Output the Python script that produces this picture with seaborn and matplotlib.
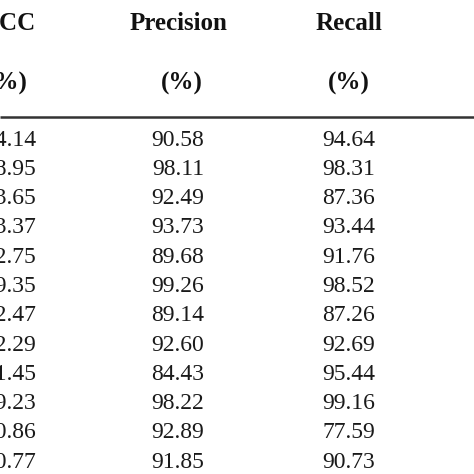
import matplotlib
matplotlib.use("Agg")
import matplotlib.pyplot as plt
import seaborn as sns

headers = ["ACC", "Precision", "Recall"]
units = ["(%)", "(%)", "(%)"]
acc = ["94.14", "98.95", "93.65", "93.37", "92.75", "99.35",
       "92.47", "92.29", "91.45", "99.23", "90.86", "90.77"]
precision = ["90.58", "98.11", "92.49", "93.73", "89.68", "99.26",
             "89.14", "92.60", "84.43", "98.22", "92.89", "91.85"]
recall = ["94.64", "98.31", "87.36", "93.44", "91.76", "98.52",
          "87.26", "92.69", "95.44", "99.16", "77.59", "90.73"]

sns.set_theme(style="white")
plt.rcParams["font.family"] = ["Liberation Serif", "DejaVu Serif"]

fig = plt.figure(figsize=(4.74, 4.74), dpi=100)
ax = fig.add_axes([0, 0, 1, 1])
ax.set_xlim(0, 474)
ax.set_ylim(474, 0)
ax.axis("off")

# column anchors: (x, alignment)
head_x = [(36, "right"), (179, "center"), (349, "center")]
unit_x = [(28, "right"), (182, "center"), (349, "center")]
cols = [(36, "right"), (178, "center"), (349, "center")]

for (x, ha), h in zip(head_x, headers):
    ax.text(x, 23, h, ha=ha, va="center", fontsize=18, fontweight="bold", color="#111111")
for (x, ha), u in zip(unit_x, units):
    ax.text(x, 83, u, ha=ha, va="center", fontsize=18, fontweight="bold", color="#111111")

ax.plot([0, 474], [117, 117], color="#333333", lw=1.8, solid_capstyle="butt")

for i, row in enumerate(zip(acc, precision, recall)):
    y = 140 + i * 29.3
    for (x, ha), v in zip(cols, row):
        ax.text(x, y, v, ha=ha, va="center", fontsize=17, color="#1a1a1a")

fig.savefig("out.png", dpi=100, facecolor="white")
